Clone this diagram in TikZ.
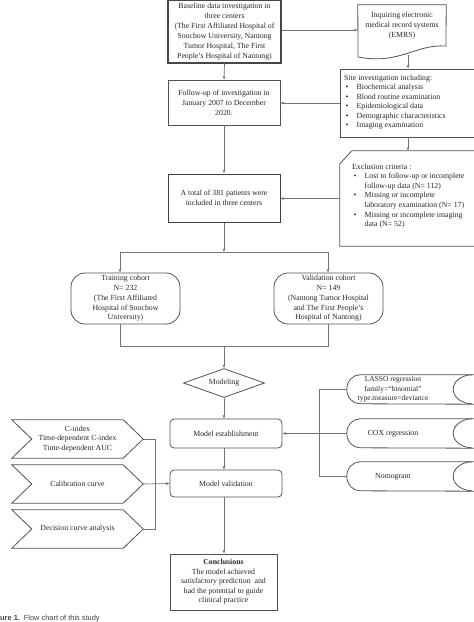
\documentclass[tikz,border=0pt]{standalone}
\usepackage{fontspec}
\setmainfont{Liberation Serif}
\newfontfamily\capfont{Liberation Sans}
\usetikzlibrary{arrows.meta,shapes.geometric,calc}
\newcommand\drawcyl[1]{%
  \draw[box] ($(#1.north east)+(-2,0)$) -- ($(#1.north west)+(13,0)$)
    arc[start angle=90,end angle=270,x radius=13pt,y radius=14.5pt]
    -- ($(#1.south east)+(-2,0)$);
  \draw[box] ($(#1.north east)+(-7,0)$) arc[start angle=90,end angle=270,x radius=19pt,y radius=14.5pt];}
\newcommand\drawsig[1]{%
  \draw[box] (#1.north west) -- ($(#1.north east)+(-20,0)$) -- (#1.east)
    -- ($(#1.south east)+(-20,0)$) -- (#1.south west) -- ($(#1.west)+(20,0)$) -- cycle;}
\newcommand\bul{\hspace*{1.5pt}\makebox[11pt][l]{\textbullet}}
\begin{document}
\begin{tikzpicture}[x=1pt,y=-1pt,
  every node/.style={font=\fontsize{7.8}{10}\selectfont, text=black!85, inner sep=0pt, align=center},
  box/.style={draw=black!68, line width=0.8pt},
  geom/.style={rectangle, draw=none},
  ln/.style={draw=black!55, line width=0.7pt},
  arr/.style={ln, -{Latex[length=3.2pt,width=3pt]}},
]
\useasboundingbox (0,0) rectangle (474,622);

% top column
\node[box, rectangle, line width=1.1pt, draw=black!72, minimum width=113pt, minimum height=62.5pt] (base) at (224.5,31.75)
  {Baseline data investigation in\\three centers\\(The First Affiliated Hospital of\\Soochow University, Nantong\\Tumor Hospital, The First\\People's Hospital of Nantong)};

\node[geom, minimum width=88pt, minimum height=50pt] (emrs) at (402,30) {};
\draw[box] (emrs.north west) -- (emrs.north east) -- (446,46) .. controls (415,44) and (400,65) .. (358,57) -- cycle;
\node (emrstext) at (402,26) {Inquiring electronic\\medical record systems\\(EMRS)};

\node[box, rectangle, minimum width=136pt, minimum height=68pt] (site) at (408,103) {};
\node[anchor=north west, align=left, font=\fontsize{7.8}{9.5}\selectfont] (sitetext) at (344,74.5)
  {Site investigation including:\\
   \bul Biochemical analysis\\
   \bul Blood routine examination\\
   \bul Epidemiological data\\
   \bul Demographic characteristics\\
   \bul Imaging examination};

\node[box, rectangle, minimum width=112pt, minimum height=45pt] (follow) at (224,102.5)
  {Follow-up of investigation in\\January 2007 to December\\2020.};

\node[geom, minimum width=136pt, minimum height=95pt] (excl) at (408,198.5) {};
\draw[box] ($(excl.north west)+(12,0)$) -- (excl.north east) -- (excl.south east) -- (excl.south west) -- ($(excl.north west)+(0,13)$) -- cycle;
\node[anchor=north west, align=left, font=\fontsize{7.8}{9.6}\selectfont] (excltext) at (352,163.5)
  {Exclusion criteria :\\
   \bul Lost to follow-up or incomplete\\
   \hspace*{12.5pt}follow-up data (N= 112)\\
   \bul Missing or incomplete\\
   \hspace*{12.5pt}laboratory examination (N= 17)\\
   \bul Missing or incomplete imaging\\
   \hspace*{12.5pt}data (N= 52)};

\node[box, rectangle, line width=1pt, draw=black!75, minimum width=112pt, minimum height=48pt] (total) at (224,198)
  {A total of 381 patients were\\included in three centers};

% cohorts
\node[box, rectangle, rounded corners=14pt, minimum width=109pt, minimum height=51pt, font=\fontsize{7.8}{9.8}\selectfont] (train) at (125.5,298.5)
  {Training cohort\\N= 232\\(The First Affiliated\\Hospital of Soochow\\University)};
\node[box, rectangle, rounded corners=14pt, minimum width=109pt, minimum height=51pt, font=\fontsize{7.8}{9.8}\selectfont] (vcoh) at (328.5,298.5)
  {Validation cohort\\N= 149\\(Nantong Tumor Hospital\\and The First People's\\Hospital of Nantong)};

\node[box, diamond, aspect=2.8, minimum width=81pt, minimum height=29pt] (model) at (224,383) {Modeling};

\node[box, rectangle, rounded corners=4pt, minimum width=112pt, minimum height=29pt] (estab) at (226,433.5) {Model establishment};
\node[box, rectangle, rounded corners=4pt, minimum width=112pt, minimum height=27pt] (valid) at (226,483.5) {Model validation};

\node[box, rectangle, minimum width=107pt, minimum height=56pt, font=\fontsize{7.8}{9.5}\selectfont] (concl) at (223.5,582)
  {\textbf{Conclusions}\\The model achieved\\satisfactory prediction\ \ and\\had the potential to guide\\clinical practice};

% cylinders
\node[geom, minimum width=132pt, minimum height=29pt] (lasso) at (413,389.5) {};
\node[geom, minimum width=132pt, minimum height=29pt] (cox) at (413,433.5) {};
\node[geom, minimum width=132pt, minimum height=29pt] (nomo) at (413,476.5) {};
\drawcyl{lasso}\drawcyl{cox}\drawcyl{nomo}
\node[font=\fontsize{7.5}{9.3}\selectfont] (lassotext) at (393,389.5) {LASSO regression\\family=“binomial”\\type.measure=deviance};
\node (coxtext) at (393,433.5) {COX regression};
\node (nomotext) at (393,476.5) {Nomogram};

% chevrons
\node[geom, minimum width=131pt, minimum height=38pt, font=\fontsize{7.8}{9.5}\selectfont] (cidx) at (77.5,439) {C-index\\Time-dependent C-index\\Time-dependent AUC};
\node[geom, minimum width=131pt, minimum height=38pt] (calib) at (77.5,484) {Calibration curve};
\node[geom, minimum width=131pt, minimum height=38pt] (dca) at (77.5,529) {Decision curve analysis};
\drawsig{cidx}\drawsig{calib}\drawsig{dca}

% connectors
\draw[arr] (base.east |- emrs.west) -- (emrs.west);
\draw[arr] (base.south) -- (follow.north);
\draw[arr] (site.north |- emrs.south) -- (site.north);
\draw[arr] (site.west) -- (site.west -| follow.east);
\draw[arr] (site.south) -- (site.south |- excl.north);
\draw[arr] (excl.west) -- (excl.west -| total.east);
\draw[arr] (follow.south) -- (total.north);

\coordinate (tl) at (120,252);
\coordinate (vl) at (328,252);
\coordinate (tb) at (120,346);
\coordinate (vb) at (328,346);
\draw[arr] (total.south) -- (total.south |- tl);
\draw[ln] (tl) -- (vl);
\draw[arr] (tl) -- (tl |- train.north);
\draw[arr] (vl) -- (vl |- vcoh.north);
\draw[ln] (tl |- train.south) -- (tb) -- (vb) -- (vl |- vcoh.south);
\draw[arr] (model.north |- tb) -- (model.north);

\draw[arr] (model.south) -- (model.south |- estab.north);
\draw[arr] (model.south |- estab.south) -- (model.south |- valid.north);
\draw[arr] (model.south |- valid.south) -- (model.south |- concl.north);

\draw[ln] (lasso.west) -- ++(-27,0) |- (nomo.west);
\draw[arr] (cox.west) -- (estab.east);

\draw[ln] (cidx.east) -- ++(12,0) |- (dca.east);
\draw[arr] (calib.east) -- (valid.west);

% caption
\node[anchor=base west, font=\capfont\fontsize{7.4}{9}\selectfont, text=black!75] (cap) at (0,620.5)
  {\textbf{ure 1.}\hspace{4pt}Flow chart of this study};
\end{tikzpicture}
\end{document}
